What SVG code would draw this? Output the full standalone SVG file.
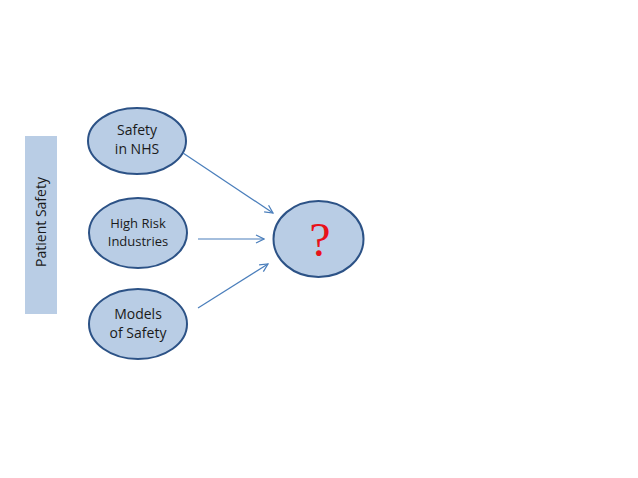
<svg xmlns="http://www.w3.org/2000/svg" width="638" height="478" viewBox="0 0 638 478">
<style>
.node{fill:#b9cde5;stroke:#2c5286;stroke-width:2}
.lbl{font-family:"Open Sans","Liberation Sans",sans-serif;font-size:14px;fill:#1a1a1a;text-anchor:middle}
.conn{stroke:#4a7ebb;stroke-width:1.2;fill:none;marker-end:url(#ah)}
</style>
<defs>
<marker id="ah" viewBox="0 0 10 10" refX="9" refY="5" markerWidth="10" markerHeight="10" markerUnits="userSpaceOnUse" orient="auto">
<path d="M1,1 L9,5 L1,9" fill="none" stroke="#4a7ebb" stroke-width="1.2"/>
</marker>
</defs>
<rect width="638" height="478" fill="#fff"/>
<g id="patient-safety">
<rect x="25" y="136" width="32" height="178" fill="#b9cde5"/>
<text class="lbl" transform="translate(46,222) rotate(-90)">Patient Safety</text>
</g>
<g id="safety-nhs">
<ellipse class="node" cx="137" cy="141" rx="49" ry="33"/>
<text class="lbl" x="137" y="135">Safety</text>
<text class="lbl" x="137" y="154">in NHS</text>
</g>
<g id="high-risk">
<ellipse class="node" cx="138" cy="233" rx="49" ry="35"/>
<text class="lbl" x="138" y="228" style="font-size:13px">High Risk</text>
<text class="lbl" x="138" y="246" style="font-size:13px">Industries</text>
</g>
<g id="models">
<ellipse class="node" cx="138" cy="324" rx="49" ry="35"/>
<text class="lbl" x="138" y="319">Models</text>
<text class="lbl" x="138" y="338">of Safety</text>
</g>
<g id="question">
<ellipse class="node" cx="318.5" cy="239" rx="45" ry="38"/>
<text x="320" y="256" text-anchor="middle" font-family="'Liberation Serif','DejaVu Serif',serif" font-size="48" fill="#e8121a">?</text>
</g>
<g id="connectors">
<line class="conn" x1="183" y1="153" x2="273" y2="213"/>
<line class="conn" x1="198" y1="239" x2="264" y2="239"/>
<line class="conn" x1="198" y1="308" x2="268" y2="264"/>
</g>
</svg>
